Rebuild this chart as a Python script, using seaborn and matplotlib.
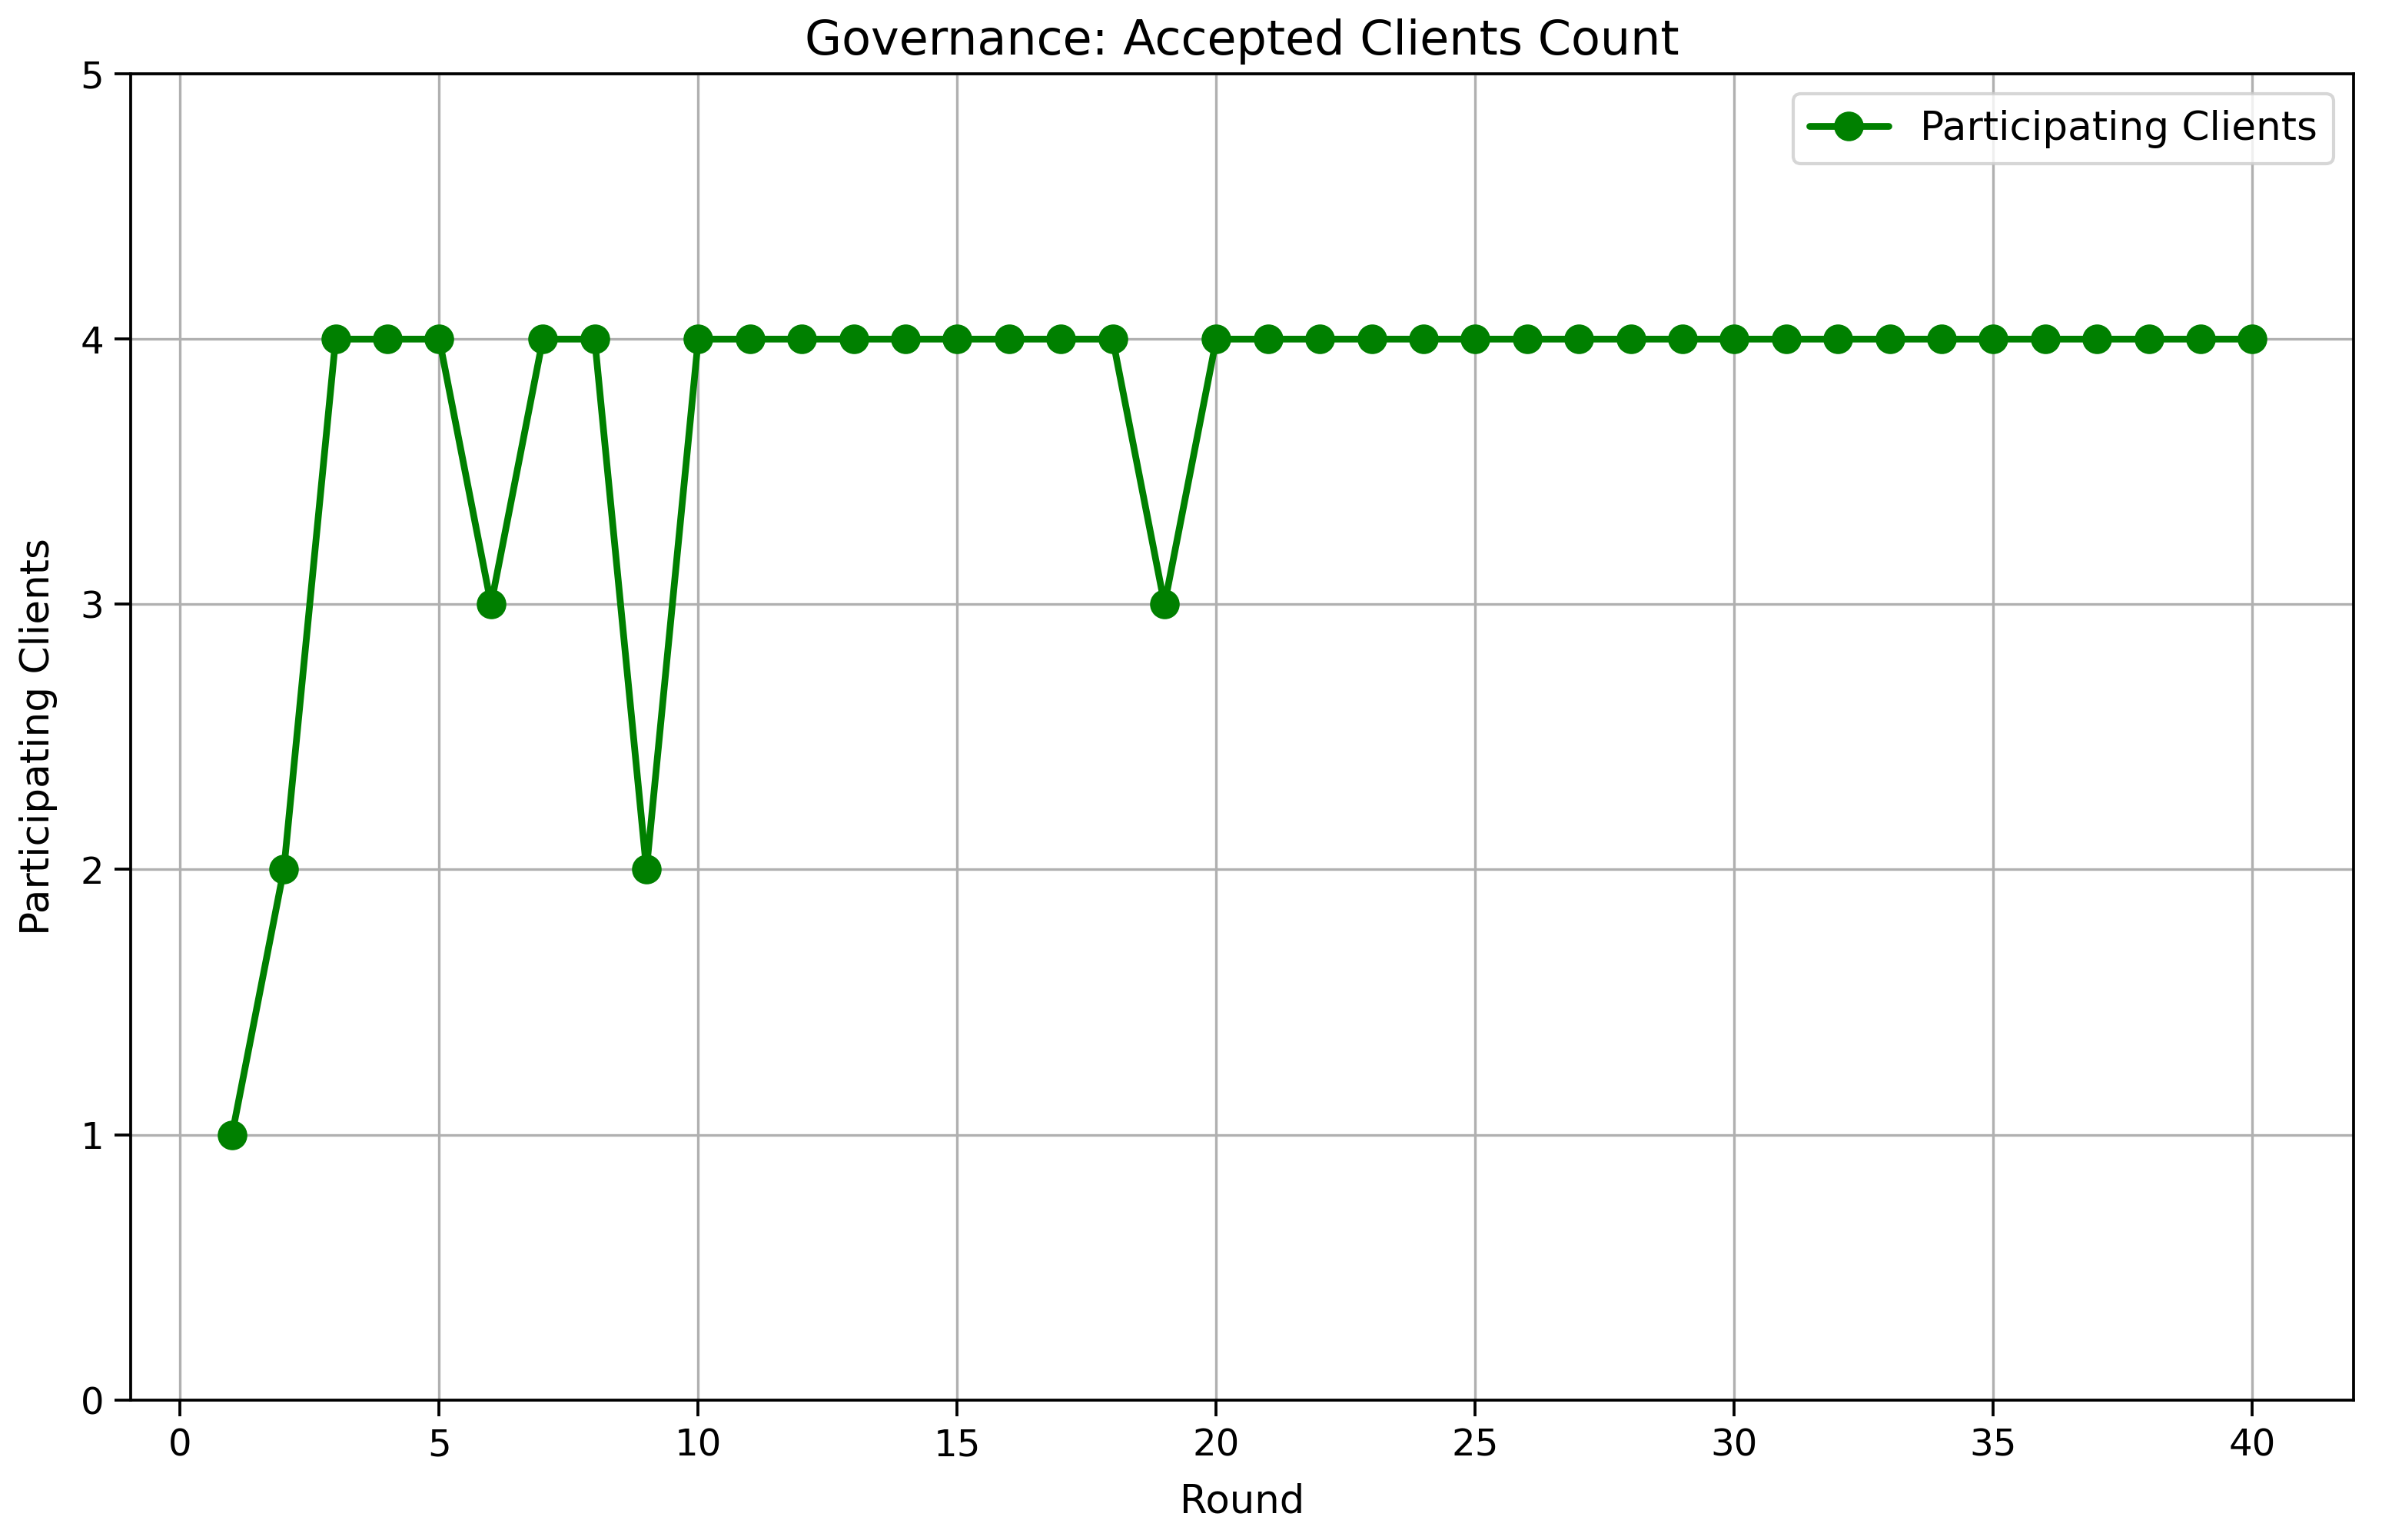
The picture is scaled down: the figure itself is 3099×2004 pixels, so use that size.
import matplotlib
matplotlib.use("Agg")

import matplotlib.pyplot as plt
import seaborn as sns
import pandas as pd

# data
rounds = list(range(1, 41))
clients = [1, 2, 4, 4, 4, 3, 4, 4, 2, 4,
           4, 4, 4, 4, 4, 4, 4, 4, 3, 4,
           4, 4, 4, 4, 4, 4, 4, 4, 4, 4,
           4, 4, 4, 4, 4, 4, 4, 4, 4, 4]
series_label = "Participating Clients"

df = pd.DataFrame({"Round": rounds, "Clients": clients})

sns.set_style("ticks")
plt.rcParams["font.family"] = ["DejaVu Sans"]
plt.rcParams["text.color"] = "black"
plt.rcParams["axes.labelcolor"] = "black"
plt.rcParams["xtick.color"] = "black"
plt.rcParams["ytick.color"] = "black"
plt.rcParams["axes.edgecolor"] = "black"

fig, ax = plt.subplots(figsize=(3099 / 300, 2004 / 300), dpi=300)
fig.subplots_adjust(left=0.055, right=0.988, top=0.952, bottom=0.091)

sns.lineplot(data=df, x="Round", y="Clients", ax=ax, color="green",
             marker="o", markersize=8.5, markeredgecolor="green",
             linewidth=2.1, label=series_label)

ax.set_ylim(0, 5)
ax.set_xticks(range(0, 41, 5))
ax.set_yticks(range(0, 6))
ax.set_xlabel("Round", fontsize=12.3, labelpad=6)
ax.set_ylabel("Participating Clients", fontsize=12.4, labelpad=7)
ax.set_title("Governance: Accepted Clients Count", fontsize=14.9)
ax.tick_params(labelsize=11.6, length=5, width=0.9)
ax.grid(True, color="#b0b0b0", linewidth=0.8)
for s in ax.spines.values():
    s.set_linewidth(0.9)
ax.legend(loc="upper right", fontsize=12.4)

fig.savefig("out.png", dpi=300)
